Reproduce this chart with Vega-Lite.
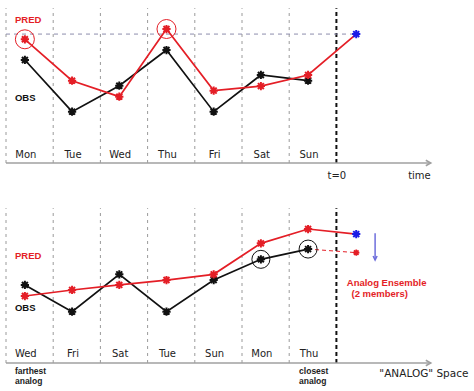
{
  "$schema": "https://vega.github.io/schema/vega-lite/v6.json",
  "background": "white",
  "padding": {"left": 5, "top": 0, "right": 0, "bottom": 0},
  "spacing": 37,
  "bounds": "flush",
  "config": {"view": {"stroke": null}},
  "datasets": {
    "pts": [
      {"p": "top", "s": "OBS", "m": "OBS", "x": 0.4, "y": 63.2, "ring": false},
      {"p": "top", "s": "OBS", "m": "OBS", "x": 1.4, "y": 31.5, "ring": false},
      {"p": "top", "s": "OBS", "m": "OBS", "x": 2.4, "y": 47.4, "ring": false},
      {"p": "top", "s": "OBS", "m": "OBS", "x": 3.4, "y": 69.3, "ring": false},
      {"p": "top", "s": "OBS", "m": "OBS", "x": 4.4, "y": 31.5, "ring": false},
      {"p": "top", "s": "OBS", "m": "OBS", "x": 5.4, "y": 54.0, "ring": false},
      {"p": "top", "s": "OBS", "m": "OBS", "x": 6.4, "y": 50.5, "ring": false},
      {"p": "top", "s": "PRED", "m": "PRED", "x": 0.4, "y": 75.9, "ring": true},
      {"p": "top", "s": "PRED", "m": "PRED", "x": 1.4, "y": 50.5, "ring": false},
      {"p": "top", "s": "PRED", "m": "PRED", "x": 2.4, "y": 40.7, "ring": false},
      {"p": "top", "s": "PRED", "m": "PRED", "x": 3.4, "y": 82.2, "ring": true},
      {"p": "top", "s": "PRED", "m": "PRED", "x": 4.4, "y": 44.4, "ring": false},
      {"p": "top", "s": "PRED", "m": "PRED", "x": 5.4, "y": 47.2, "ring": false},
      {"p": "top", "s": "PRED", "m": "PRED", "x": 6.4, "y": 54.0, "ring": false},
      {"p": "top", "s": "PRED", "m": "FCST", "x": 7.42, "y": 79.1, "ring": false},
      {"p": "bottom", "s": "OBS", "m": "OBS", "x": 0.4, "y": 47.9, "ring": false},
      {"p": "bottom", "s": "OBS", "m": "OBS", "x": 1.4, "y": 31.5, "ring": false},
      {"p": "bottom", "s": "OBS", "m": "OBS", "x": 2.4, "y": 54.4, "ring": false},
      {"p": "bottom", "s": "OBS", "m": "OBS", "x": 3.4, "y": 31.5, "ring": false},
      {"p": "bottom", "s": "OBS", "m": "OBS", "x": 4.4, "y": 50.9, "ring": false},
      {"p": "bottom", "s": "OBS", "m": "OBS", "x": 5.4, "y": 63.6, "ring": true},
      {"p": "bottom", "s": "OBS", "m": "OBS", "x": 6.4, "y": 69.9, "ring": true},
      {"p": "bottom", "s": "PRED", "m": "PRED", "x": 0.4, "y": 41.1, "ring": false},
      {"p": "bottom", "s": "PRED", "m": "PRED", "x": 1.4, "y": 44.8, "ring": false},
      {"p": "bottom", "s": "PRED", "m": "PRED", "x": 2.4, "y": 47.9, "ring": false},
      {"p": "bottom", "s": "PRED", "m": "PRED", "x": 3.4, "y": 50.9, "ring": false},
      {"p": "bottom", "s": "PRED", "m": "PRED", "x": 4.4, "y": 54.4, "ring": false},
      {"p": "bottom", "s": "PRED", "m": "PRED", "x": 5.4, "y": 73.4, "ring": false},
      {"p": "bottom", "s": "PRED", "m": "PRED", "x": 6.4, "y": 82.2, "ring": false},
      {"p": "bottom", "s": "PRED", "m": "FCST", "x": 7.42, "y": 79.1, "ring": false}
    ],
    "days": [
      {"p": "top", "day": "Mon", "x": 0.42, "y": 4.9},
      {"p": "top", "day": "Tue", "x": 1.42, "y": 4.9},
      {"p": "top", "day": "Wed", "x": 2.42, "y": 4.9},
      {"p": "top", "day": "Thu", "x": 3.42, "y": 4.9},
      {"p": "top", "day": "Fri", "x": 4.42, "y": 4.9},
      {"p": "top", "day": "Sat", "x": 5.42, "y": 4.9},
      {"p": "top", "day": "Sun", "x": 6.42, "y": 4.9},
      {"p": "bottom", "day": "Wed", "x": 0.42, "y": 5.4},
      {"p": "bottom", "day": "Fri", "x": 1.42, "y": 5.4},
      {"p": "bottom", "day": "Sat", "x": 2.42, "y": 5.4},
      {"p": "bottom", "day": "Tue", "x": 3.42, "y": 5.4},
      {"p": "bottom", "day": "Sun", "x": 4.42, "y": 5.4},
      {"p": "bottom", "day": "Mon", "x": 5.42, "y": 5.4},
      {"p": "bottom", "day": "Thu", "x": 6.42, "y": 5.4}
    ],
    "ens": [
      {"role": "analog", "x": 6.4, "y": 69.9},
      {"role": "member", "x": 7.42, "y": 67.7}
    ],
    "shift": [
      {"x": 7.82, "y": 79.6, "y2": 63.2}
    ],
    "ref": [
      {"x0": 0, "x": 7.42, "y": 79.1}
    ],
    "grid": [
      {"x": 0, "k": "day", "lo": 0, "hi": 95}, {"x": 1, "k": "day", "lo": 0, "hi": 95},
      {"x": 2, "k": "day", "lo": 0, "hi": 95}, {"x": 3, "k": "day", "lo": 0, "hi": 95},
      {"x": 4, "k": "day", "lo": 0, "hi": 95}, {"x": 5, "k": "day", "lo": 0, "hi": 95},
      {"x": 6, "k": "day", "lo": 0, "hi": 95}, {"x": 7, "k": "now", "lo": 0, "hi": 95}
    ],
    "axisline": [{"x": 0, "x2": 9.0, "y": 0}]
  },
  "vconcat": [
    {
      "width": 472,
      "height": 163,
      "layer": [
        {
          "data": {"name": "grid"},
          "transform": [{"filter": "datum.k == 'day'"}],
          "mark": {"type": "rule", "stroke": "#9a9a9a", "strokeWidth": 1, "strokeDash": [3, 4]},
          "encoding": {
            "x": {"field": "x", "type": "quantitative", "scale": {"domain": [0, 10], "nice": false, "zero": false}, "axis": null},
            "y": {"field": "lo", "type": "quantitative", "scale": {"domain": [0, 100], "nice": false, "zero": false}, "axis": null},
            "y2": {"field": "hi"}
          }
        },
        {
          "data": {"name": "grid"},
          "transform": [{"filter": "datum.k == 'now'"}],
          "mark": {"type": "rule", "stroke": "#111111", "strokeWidth": 2, "strokeDash": [4, 3]},
          "encoding": {
            "x": {"field": "x", "type": "quantitative", "scale": {"domain": [0, 10], "nice": false, "zero": false}, "axis": null},
            "y": {"field": "lo", "type": "quantitative", "scale": {"domain": [0, 100], "nice": false, "zero": false}, "axis": null},
            "y2": {"field": "hi"}
          }
        },
        {
          "data": {"name": "axisline"},
          "mark": {"type": "rule", "stroke": "#a0a0a0", "strokeWidth": 1.5},
          "encoding": {
            "x": {"field": "x", "type": "quantitative", "scale": {"domain": [0, 10], "nice": false, "zero": false}, "axis": null},
            "x2": {"field": "x2"},
            "y": {"field": "y", "type": "quantitative", "scale": {"domain": [0, 100], "nice": false, "zero": false}, "axis": null}
          }
        },
        {
          "data": {"name": "axisline"},
          "mark": {"type": "point", "shape": "M-1,-0.55L0,0L-1,0.55", "filled": false, "stroke": "#a0a0a0", "strokeWidth": 1.5, "size": 100, "opacity": 1},
          "encoding": {
            "x": {"field": "x2", "type": "quantitative", "scale": {"domain": [0, 10], "nice": false, "zero": false}, "axis": null},
            "y": {"field": "y", "type": "quantitative", "scale": {"domain": [0, 100], "nice": false, "zero": false}, "axis": null}
          }
        },
        {
          "data": {"name": "ref"},
          "mark": {"type": "rule", "stroke": "#8c8cac", "strokeWidth": 1, "strokeDash": [4, 4]},
          "encoding": {
            "x": {"field": "x0", "type": "quantitative", "scale": {"domain": [0, 10], "nice": false, "zero": false}, "axis": null},
            "x2": {"field": "x"},
            "y": {"field": "y", "type": "quantitative", "scale": {"domain": [0, 100], "nice": false, "zero": false}, "axis": null}
          }
        },
        {
          "data": {"name": "pts"},
          "transform": [{"filter": "datum.p == 'top'"}],
          "mark": {"type": "line", "strokeWidth": 1.7},
          "encoding": {
            "x": {"field": "x", "type": "quantitative", "scale": {"domain": [0, 10], "nice": false, "zero": false}, "axis": null},
            "y": {"field": "y", "type": "quantitative", "scale": {"domain": [0, 100], "nice": false, "zero": false}, "axis": null},
            "color": {"field": "s", "type": "nominal", "scale": {"domain": ["PRED", "OBS", "FCST", "ENS"], "range": ["#e41e26", "#111111", "#1a1ae6", "#e41e26"]}, "legend": null}
          }
        },
        {
          "data": {"name": "pts"},
          "transform": [{"filter": "datum.p == 'top' && datum.ring"}],
          "mark": {"type": "point", "shape": "circle", "filled": false, "strokeWidth": 1, "size": 361, "opacity": 1},
          "encoding": {
            "x": {"field": "x", "type": "quantitative", "scale": {"domain": [0, 10], "nice": false, "zero": false}, "axis": null},
            "y": {"field": "y", "type": "quantitative", "scale": {"domain": [0, 100], "nice": false, "zero": false}, "axis": null},
            "color": {"field": "s", "type": "nominal", "scale": {"domain": ["PRED", "OBS", "FCST", "ENS"], "range": ["#e41e26", "#111111", "#1a1ae6", "#e41e26"]}, "legend": null}
          }
        },
        {
          "data": {"name": "pts"},
          "transform": [{"filter": "datum.p == 'top'"}],
          "mark": {"type": "point", "shape": "M-1,0L1,0M0,-1L0,1M-0.72,-0.72L0.72,0.72M-0.72,0.72L0.72,-0.72", "filled": false, "strokeWidth": 2, "opacity": 1},
          "encoding": {
            "x": {"field": "x", "type": "quantitative", "scale": {"domain": [0, 10], "nice": false, "zero": false}, "axis": null},
            "y": {"field": "y", "type": "quantitative", "scale": {"domain": [0, 100], "nice": false, "zero": false}, "axis": null},
            "color": {"field": "m", "type": "nominal", "scale": {"domain": ["PRED", "OBS", "FCST", "ENS"], "range": ["#e41e26", "#111111", "#1a1ae6", "#e41e26"]}, "legend": null},
            "size": {"field": "m", "type": "nominal", "scale": {"domain": ["PRED", "OBS", "FCST", "ENS"], "range": [68, 68, 130, 40]}, "legend": null}
          }
        },
        {
          "data": {"name": "days"},
          "transform": [{"filter": "datum.p == 'top'"}],
          "mark": {"type": "text", "font": "DejaVu Sans", "fontSize": 10, "align": "center", "baseline": "middle", "color": "#222222"},
          "encoding": {
            "x": {"field": "x", "type": "quantitative", "scale": {"domain": [0, 10], "nice": false, "zero": false}, "axis": null},
            "y": {"field": "y", "type": "quantitative", "scale": {"domain": [0, 100], "nice": false, "zero": false}, "axis": null},
            "text": {"field": "day"}
          }
        },
        {
          "data": {"values": [{"t": "PRED", "s": "PRED", "x": 0.19, "y": 87.7}, {"t": "OBS", "s": "OBS", "x": 0.19, "y": 39.7}]},
          "mark": {"type": "text", "font": "Liberation Sans", "fontWeight": "bold", "fontSize": 9.5, "align": "left", "baseline": "middle"},
          "encoding": {
            "x": {"field": "x", "type": "quantitative", "scale": {"domain": [0, 10], "nice": false, "zero": false}, "axis": null},
            "y": {"field": "y", "type": "quantitative", "scale": {"domain": [0, 100], "nice": false, "zero": false}, "axis": null},
            "text": {"field": "t"},
            "color": {"field": "s", "type": "nominal", "scale": {"domain": ["PRED", "OBS", "FCST", "ENS"], "range": ["#e41e26", "#111111", "#1a1ae6", "#e41e26"]}, "legend": null}
          }
        },
        {
          "data": {"values": [{"t": "t=0", "x": 7.01, "y": -7.9}, {"t": "time", "x": 8.76, "y": -8.0}]},
          "mark": {"type": "text", "font": "DejaVu Sans", "fontSize": 10, "align": "center", "baseline": "middle", "color": "#222222"},
          "encoding": {
            "x": {"field": "x", "type": "quantitative", "scale": {"domain": [0, 10], "nice": false, "zero": false}, "axis": null},
            "y": {"field": "y", "type": "quantitative", "scale": {"domain": [0, 100], "nice": false, "zero": false}, "axis": null},
            "text": {"field": "t"}
          }
        }
      ]
    },
    {
      "width": 472,
      "height": 163,
      "layer": [
        {
          "data": {"name": "grid"},
          "transform": [{"filter": "datum.k == 'day'"}],
          "mark": {"type": "rule", "stroke": "#9a9a9a", "strokeWidth": 1, "strokeDash": [3, 4]},
          "encoding": {
            "x": {"field": "x", "type": "quantitative", "scale": {"domain": [0, 10], "nice": false, "zero": false}, "axis": null},
            "y": {"field": "lo", "type": "quantitative", "scale": {"domain": [0, 100], "nice": false, "zero": false}, "axis": null},
            "y2": {"field": "hi"}
          }
        },
        {
          "data": {"name": "grid"},
          "transform": [{"filter": "datum.k == 'now'"}],
          "mark": {"type": "rule", "stroke": "#111111", "strokeWidth": 2, "strokeDash": [4, 3]},
          "encoding": {
            "x": {"field": "x", "type": "quantitative", "scale": {"domain": [0, 10], "nice": false, "zero": false}, "axis": null},
            "y": {"field": "lo", "type": "quantitative", "scale": {"domain": [0, 100], "nice": false, "zero": false}, "axis": null},
            "y2": {"field": "hi"}
          }
        },
        {
          "data": {"name": "axisline"},
          "mark": {"type": "rule", "stroke": "#a0a0a0", "strokeWidth": 1.5},
          "encoding": {
            "x": {"field": "x", "type": "quantitative", "scale": {"domain": [0, 10], "nice": false, "zero": false}, "axis": null},
            "x2": {"field": "x2"},
            "y": {"field": "y", "type": "quantitative", "scale": {"domain": [0, 100], "nice": false, "zero": false}, "axis": null}
          }
        },
        {
          "data": {"name": "axisline"},
          "mark": {"type": "point", "shape": "M-1,-0.55L0,0L-1,0.55", "filled": false, "stroke": "#a0a0a0", "strokeWidth": 1.5, "size": 100, "opacity": 1},
          "encoding": {
            "x": {"field": "x2", "type": "quantitative", "scale": {"domain": [0, 10], "nice": false, "zero": false}, "axis": null},
            "y": {"field": "y", "type": "quantitative", "scale": {"domain": [0, 100], "nice": false, "zero": false}, "axis": null}
          }
        },
        {
          "data": {"name": "ens"},
          "mark": {"type": "line", "stroke": "#e41e26", "strokeWidth": 1, "strokeDash": [4, 3]},
          "encoding": {
            "x": {"field": "x", "type": "quantitative", "scale": {"domain": [0, 10], "nice": false, "zero": false}, "axis": null},
            "y": {"field": "y", "type": "quantitative", "scale": {"domain": [0, 100], "nice": false, "zero": false}, "axis": null}
          }
        },
        {
          "data": {"name": "pts"},
          "transform": [{"filter": "datum.p == 'bottom'"}],
          "mark": {"type": "line", "strokeWidth": 1.7},
          "encoding": {
            "x": {"field": "x", "type": "quantitative", "scale": {"domain": [0, 10], "nice": false, "zero": false}, "axis": null},
            "y": {"field": "y", "type": "quantitative", "scale": {"domain": [0, 100], "nice": false, "zero": false}, "axis": null},
            "color": {"field": "s", "type": "nominal", "scale": {"domain": ["PRED", "OBS", "FCST", "ENS"], "range": ["#e41e26", "#111111", "#1a1ae6", "#e41e26"]}, "legend": null}
          }
        },
        {
          "data": {"name": "pts"},
          "transform": [{"filter": "datum.p == 'bottom' && datum.ring"}],
          "mark": {"type": "point", "shape": "circle", "filled": false, "strokeWidth": 1, "size": 324, "opacity": 1},
          "encoding": {
            "x": {"field": "x", "type": "quantitative", "scale": {"domain": [0, 10], "nice": false, "zero": false}, "axis": null},
            "y": {"field": "y", "type": "quantitative", "scale": {"domain": [0, 100], "nice": false, "zero": false}, "axis": null},
            "color": {"field": "s", "type": "nominal", "scale": {"domain": ["PRED", "OBS", "FCST", "ENS"], "range": ["#e41e26", "#111111", "#1a1ae6", "#e41e26"]}, "legend": null}
          }
        },
        {
          "data": {"name": "pts"},
          "transform": [{"filter": "datum.p == 'bottom'"}],
          "mark": {"type": "point", "shape": "M-1,0L1,0M0,-1L0,1M-0.72,-0.72L0.72,0.72M-0.72,0.72L0.72,-0.72", "filled": false, "strokeWidth": 2, "opacity": 1},
          "encoding": {
            "x": {"field": "x", "type": "quantitative", "scale": {"domain": [0, 10], "nice": false, "zero": false}, "axis": null},
            "y": {"field": "y", "type": "quantitative", "scale": {"domain": [0, 100], "nice": false, "zero": false}, "axis": null},
            "color": {"field": "m", "type": "nominal", "scale": {"domain": ["PRED", "OBS", "FCST", "ENS"], "range": ["#e41e26", "#111111", "#1a1ae6", "#e41e26"]}, "legend": null},
            "size": {"field": "m", "type": "nominal", "scale": {"domain": ["PRED", "OBS", "FCST", "ENS"], "range": [68, 68, 130, 40]}, "legend": null}
          }
        },
        {
          "data": {"name": "ens"},
          "transform": [{"filter": "datum.role == 'member'"}],
          "mark": {"type": "point", "shape": "M-1,0L1,0M0,-1L0,1M-0.72,-0.72L0.72,0.72M-0.72,0.72L0.72,-0.72", "filled": false, "stroke": "#e41e26", "strokeWidth": 1.6, "size": 40, "opacity": 1},
          "encoding": {
            "x": {"field": "x", "type": "quantitative", "scale": {"domain": [0, 10], "nice": false, "zero": false}, "axis": null},
            "y": {"field": "y", "type": "quantitative", "scale": {"domain": [0, 100], "nice": false, "zero": false}, "axis": null}
          }
        },
        {
          "data": {"name": "shift"},
          "mark": {"type": "rule", "stroke": "#6e6edc", "strokeWidth": 1.5},
          "encoding": {
            "x": {"field": "x", "type": "quantitative", "scale": {"domain": [0, 10], "nice": false, "zero": false}, "axis": null},
            "y": {"field": "y", "type": "quantitative", "scale": {"domain": [0, 100], "nice": false, "zero": false}, "axis": null},
            "y2": {"field": "y2"}
          }
        },
        {
          "data": {"name": "shift"},
          "mark": {"type": "point", "shape": "M-0.5,-1L0,0L0.5,-1", "filled": false, "stroke": "#6e6edc", "strokeWidth": 1.5, "size": 64, "opacity": 1},
          "encoding": {
            "x": {"field": "x", "type": "quantitative", "scale": {"domain": [0, 10], "nice": false, "zero": false}, "axis": null},
            "y": {"field": "y2", "type": "quantitative", "scale": {"domain": [0, 100], "nice": false, "zero": false}, "axis": null}
          }
        },
        {
          "data": {"name": "days"},
          "transform": [{"filter": "datum.p == 'bottom'"}],
          "mark": {"type": "text", "font": "DejaVu Sans", "fontSize": 10, "align": "center", "baseline": "middle", "color": "#222222"},
          "encoding": {
            "x": {"field": "x", "type": "quantitative", "scale": {"domain": [0, 10], "nice": false, "zero": false}, "axis": null},
            "y": {"field": "y", "type": "quantitative", "scale": {"domain": [0, 100], "nice": false, "zero": false}, "axis": null},
            "text": {"field": "day"}
          }
        },
        {
          "data": {"values": [{"t": "PRED", "s": "PRED", "x": 0.19, "y": 65.5}, {"t": "OBS", "s": "OBS", "x": 0.19, "y": 33.5}]},
          "mark": {"type": "text", "font": "Liberation Sans", "fontWeight": "bold", "fontSize": 9.5, "align": "left", "baseline": "middle"},
          "encoding": {
            "x": {"field": "x", "type": "quantitative", "scale": {"domain": [0, 10], "nice": false, "zero": false}, "axis": null},
            "y": {"field": "y", "type": "quantitative", "scale": {"domain": [0, 100], "nice": false, "zero": false}, "axis": null},
            "text": {"field": "t"},
            "color": {"field": "s", "type": "nominal", "scale": {"domain": ["PRED", "OBS", "FCST", "ENS"], "range": ["#e41e26", "#111111", "#1a1ae6", "#e41e26"]}, "legend": null}
          }
        },
        {
          "data": {"values": [
            {"t": "farthest", "x": 0.19, "y": -4.9},
            {"t": "analog", "x": 0.19, "y": -11.0},
            {"t": "closest", "x": 6.21, "y": -4.9},
            {"t": "analog", "x": 6.21, "y": -11.0}
          ]},
          "mark": {"type": "text", "font": "Liberation Sans", "fontWeight": "bold", "fontSize": 8.5, "align": "left", "baseline": "middle", "color": "#222222"},
          "encoding": {
            "x": {"field": "x", "type": "quantitative", "scale": {"domain": [0, 10], "nice": false, "zero": false}, "axis": null},
            "y": {"field": "y", "type": "quantitative", "scale": {"domain": [0, 100], "nice": false, "zero": false}, "axis": null},
            "text": {"field": "t"}
          }
        },
        {
          "data": {"values": [
            {"t": "Analog Ensemble", "x": 7.22, "y": 49.1},
            {"t": "(2 members)", "x": 7.32, "y": 42.3}
          ]},
          "mark": {"type": "text", "font": "Liberation Sans", "fontWeight": "bold", "fontSize": 9.5, "align": "left", "baseline": "middle", "color": "#e41e26"},
          "encoding": {
            "x": {"field": "x", "type": "quantitative", "scale": {"domain": [0, 10], "nice": false, "zero": false}, "axis": null},
            "y": {"field": "y", "type": "quantitative", "scale": {"domain": [0, 100], "nice": false, "zero": false}, "axis": null},
            "text": {"field": "t"}
          }
        },
        {
          "data": {"values": [{"t": "\"ANALOG\"  Space", "x": 7.91, "y": -6.7}]},
          "mark": {"type": "text", "font": "DejaVu Sans", "fontSize": 10.5, "align": "left", "baseline": "middle", "color": "#222222"},
          "encoding": {
            "x": {"field": "x", "type": "quantitative", "scale": {"domain": [0, 10], "nice": false, "zero": false}, "axis": null},
            "y": {"field": "y", "type": "quantitative", "scale": {"domain": [0, 100], "nice": false, "zero": false}, "axis": null},
            "text": {"field": "t"}
          }
        }
      ]
    }
  ]
}
